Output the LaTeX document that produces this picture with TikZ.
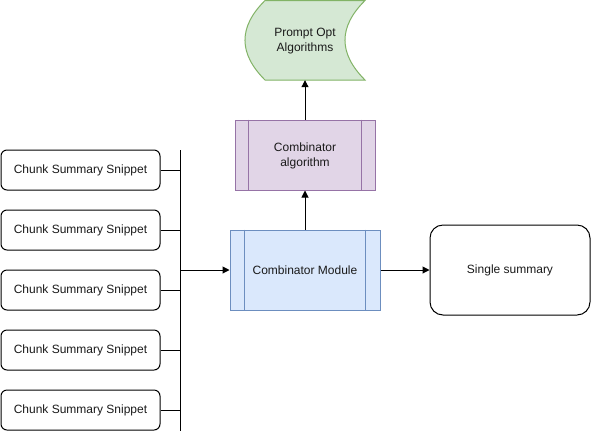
\documentclass[tikz,border=0pt]{standalone}
\usepackage{fontspec}
\setmainfont{Liberation Sans}
\usetikzlibrary{arrows.meta}
\definecolor{gfill}{HTML}{D5E8D4}
\definecolor{gline}{HTML}{82B366}
\definecolor{pfill}{HTML}{E1D5E7}
\definecolor{pline}{HTML}{9673A6}
\definecolor{bfill}{HTML}{DAE8FC}
\definecolor{bline}{HTML}{6C8EBF}
\definecolor{txt}{HTML}{1A1A1A}
\tikzset{
  lbl/.style={font=\fontsize{12}{15}\selectfont, text=txt, align=center, inner sep=0pt},
  chunk/.style={lbl, draw=black, line width=1pt, rounded corners=6pt, minimum width=159pt, minimum height=40pt},
  conn/.style={line width=1pt, draw=black},
  arr/.style={conn, -{Triangle[length=7pt,width=7pt]}},
}
\begin{document}
\begin{tikzpicture}[x=1pt,y=-1pt]
\useasboundingbox[fill=white] (0,0) rectangle (591,432);
% chunk boxes
\foreach \i/\yy in {1/170,2/230,3/290,4/350,5/410}{
  \node[chunk] (c\i) at (80.5,\yy) {Chunk Summary Snippet};
}
% bus
\coordinate (bt) at (180,150);
\coordinate (bb) at (180,431);
\draw[conn] (bt) -- (bb);
\foreach \i/\yy in {1/170,2/230,3/290,4/350,5/410}{
  \coordinate (j\i) at (180,\yy);
  \draw[conn] (c\i.east) -- (j\i);
}
\coordinate (bm) at (180,270);
% combinator module
\node[lbl, draw=bline, fill=bfill, line width=1pt, minimum width=150pt, minimum height=80pt] (mod) at (305,270) {Combinator Module};
\draw[bline, line width=1pt] ([xshift=15pt]mod.north west) -- ([xshift=15pt]mod.south west);
\draw[bline, line width=1pt] ([xshift=-15pt]mod.north east) -- ([xshift=-15pt]mod.south east);
% combinator algorithm
\node[lbl, draw=pline, fill=pfill, line width=1pt, minimum width=140pt, minimum height=70pt] (alg) at (305,155) {};
\node[lbl] (algt) at (305,156) {Combinator\\algorithm};
\draw[pline, line width=1pt] ([xshift=14pt]alg.north west) -- ([xshift=14pt]alg.south west);
\draw[pline, line width=1pt] ([xshift=-14pt]alg.north east) -- ([xshift=-14pt]alg.south east);
% prompt opt (stored data shape)
\draw[gline, fill=gfill, line width=1pt]
  (265,0.5) -- (365,0.5)
  .. controls (338.3,27) and (338.3,53.3) .. (365,80)
  -- (265,80)
  .. controls (238.3,53.3) and (238.3,27) .. (265,0.5) -- cycle;
\node[lbl, minimum width=120pt, minimum height=80pt] (pro) at (305,40) {};
\node[lbl] (prot) at (305,41.5) {Prompt Opt\\Algorithms};
% single summary
\node[lbl, draw=black, line width=1pt, rounded corners=13pt, minimum width=160pt, minimum height=90pt] (sum) at (510,270) {Single summary};
% arrows
\draw[arr] (bm) -- (mod.west);
\draw[arr] (mod.east) -- (sum.west);
\draw[arr] (mod.north) -- (alg.south);
\draw[arr] (alg.north) -- (pro.south);
\end{tikzpicture}
\end{document}
